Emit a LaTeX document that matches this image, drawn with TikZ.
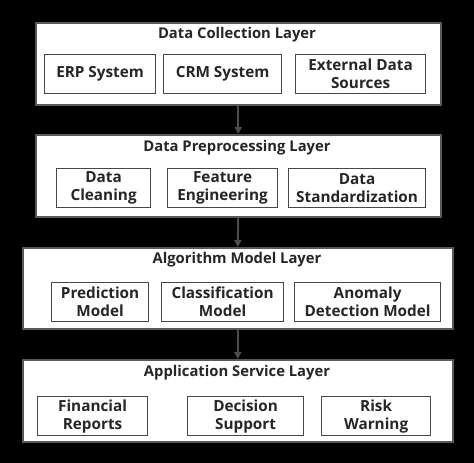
\documentclass[tikz,border=0pt]{standalone}
\usepackage{fontspec}
\setmainfont{Open Sans}
\usetikzlibrary{arrows.meta}
\begin{document}
\begin{tikzpicture}[x=1pt,y=-1pt,
  layer/.style={draw=black!65,line width=1.5pt,fill=white},
  item/.style={draw=black!72,line width=1.2pt,fill=white,align=center,font=\bfseries\fontsize{15.3}{18}\selectfont,text=black!85,inner sep=0pt},
  ttl/.style={font=\bfseries\fontsize{14.8}{18}\selectfont,text=black!85},
  conn/.style={draw=black!70,line width=2pt,-{Triangle[length=7pt,width=7pt]}}]
\fill[black] (0,0) rectangle (474,463);
\useasboundingbox (0,0) rectangle (474,463);
% layers
\node[layer,minimum width=405,minimum height=82,anchor=north west] (L1) at (35,22) {};
\node[layer,minimum width=405,minimum height=82,anchor=north west] (L2) at (35,134) {};
\node[layer,minimum width=430,minimum height=81,anchor=north west] (L3) at (22,247) {};
\node[layer,minimum width=430,minimum height=82,anchor=north west] (L4) at (22,359) {};
\node[ttl] (T1) at (237,35) {Data Collection Layer};
\node[ttl] (T2) at (237,148) {Data Preprocessing Layer};
\node[ttl] (T3) at (237,260) {Algorithm Model Layer};
\node[ttl] (T4) at (237,373) {Application Service Layer};
% layer 1 items
\node[item,minimum width=111,minimum height=39,anchor=north west] (a1) at (44,54) {ERP System};
\node[item,minimum width=118,minimum height=39,anchor=north west] (a2) at (163,54) {CRM System};
\node[item,minimum width=130,minimum height=39,anchor=north west] (a3) at (295,54) {External Data\\Sources};
% layer 2
\node[item,minimum width=94,minimum height=39,anchor=north west] (b1) at (56,168) {Data\\Cleaning};
\node[item,minimum width=110,minimum height=39,anchor=north west] (b2) at (167,168) {Feature\\Engineering};
\node[item,minimum width=137,minimum height=39,anchor=north west] (b3) at (288,168) {Data\\Standardization};
% layer 3
\node[item,minimum width=97,minimum height=39,anchor=north west] (c1) at (51,282) {Prediction\\Model};
\node[item,minimum width=122,minimum height=39,anchor=north west] (c2) at (161,282) {Classification\\Model};
\node[item,minimum width=146,minimum height=39,anchor=north west] (c3) at (294,282) {Anomaly\\Detection Model};
% layer 4
\node[item,minimum width=110,minimum height=39,anchor=north west] (d1) at (37,396) {Financial\\Reports};
\node[item,minimum width=116,minimum height=39,anchor=north west] (d2) at (187,396) {Decision\\Support};
\node[item,minimum width=109,minimum height=39,anchor=north west] (d3) at (321,396) {Risk\\Warning};
% arrows
\draw[conn] (L1.south) -- (L2.north);
\draw[conn] (L2.south) -- (L3.north);
\draw[conn] (L3.south) -- (L4.north);
\end{tikzpicture}
\end{document}
